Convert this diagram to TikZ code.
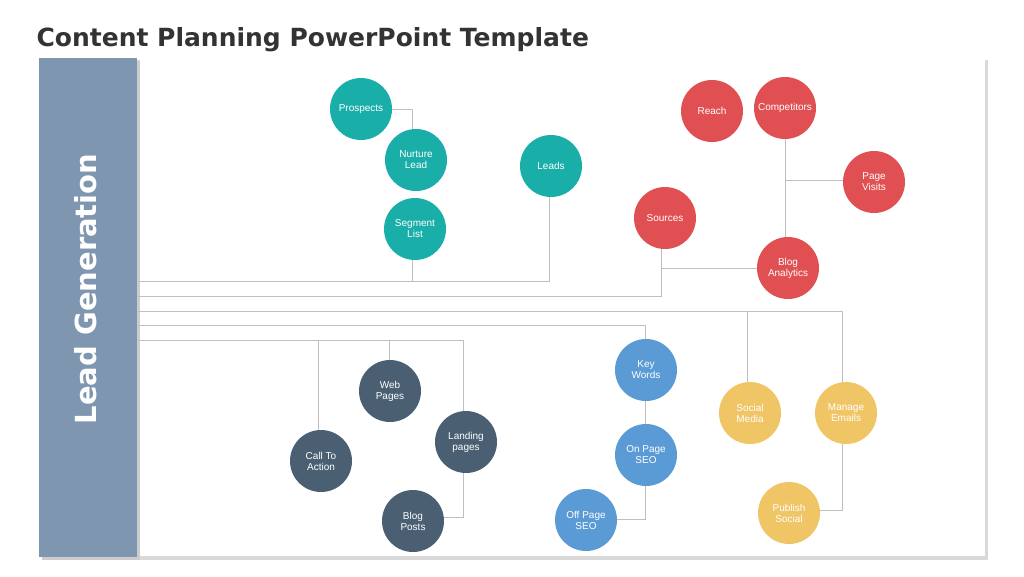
\documentclass[tikz,border=0pt]{standalone}
\usepackage{fontspec}
\setmainfont{Liberation Sans}
\newfontfamily\dvs{DejaVu Sans}
\definecolor{tl}{RGB}{26,174,168}
\definecolor{rr}{RGB}{224,80,82}
\definecolor{bb}{RGB}{91,155,213}
\definecolor{yy}{RGB}{240,197,102}
\definecolor{dd}{RGB}{74,96,114}
\definecolor{bar}{RGB}{127,150,177}
\begin{document}
\begin{tikzpicture}[x=1pt,y=-1pt,
 c/.style={circle,minimum size=62pt,inner sep=0pt,text=white,align=center,font=\fontsize{10}{11}\selectfont},
 ct/.style={c,fill=tl},cr/.style={c,fill=rr},cb/.style={c,fill=bb},cy/.style={c,fill=yy},cd/.style={c,fill=dd},
 ln/.style={draw=black!25,line width=1pt}]
\useasboundingbox (0,0) rectangle (1024,576);
\fill[white] (0,0) rectangle (1024,576);
\fill[black!15] (74,60) rectangle (988,560);
\fill[white] (140,57) rectangle (985,556);
\fill[black!20] (42,61) rectangle (140,560);
\fill[bar] (39,58) rectangle (137,557);
\node[anchor=west,font=\dvs\bfseries\fontsize{25}{28}\selectfont,text=black!80] (title) at (33,40) {Content Planning PowerPoint Template};
\node[rotate=90,font=\dvs\bfseries\fontsize{29}{32}\selectfont,text=white] (lg) at (86,289) {Lead Generation};
% lines
\coordinate (b1) at (138,281);\coordinate (b2) at (138,296);\coordinate (b3) at (138,311);\coordinate (b4) at (138,325);\coordinate (b5) at (138,340);
\draw[ln] (b1) -- (549,281) -- (549,166);
\draw[ln] (412,281) -- (412,229);
\draw[ln] (361,109) -- (412,109) -- (412,160);
\draw[ln] (b2) -- (661,296) -- (661,218);
\draw[ln] (661,268) -- (788,268);
\draw[ln] (785,108) -- (785,268);
\draw[ln] (785,180) -- (874,180);
\draw[ln] (b3) -- (842,311) -- (842,510) -- (789,510);
\draw[ln] (747,311) -- (747,413);
\draw[ln] (b4) -- (645,325) -- (645,519) -- (586,519);
\draw[ln] (b5) -- (463,340) -- (463,517) -- (413,517);
\draw[ln] (318,340) -- (318,461);
\draw[ln] (389,340) -- (389,391);
% circles
\node[ct] (pr) at (361,109) {Prospects};
\node[ct] (nl) at (416,160) {Nurture\\Lead};
\node[ct] (sl) at (415,229) {Segment\\List};
\node[ct] (le) at (551,166) {Leads};
\node[cr] (re) at (712,111) {Reach};
\node[cr] (co) at (785,108) {Competitors};
\node[cr] (pv) at (874,182) {Page\\Visits};
\node[cr] (so) at (665,218) {Sources};
\node[cr] (ba) at (788,268) {Blog\\Analytics};
\node[cb] (kw) at (646,370) {Key\\Words};
\node[cb] (op) at (646,455) {On Page\\SEO};
\node[cb] (of) at (586,520) {Off Page\\SEO};
\node[cy] (sm) at (750,413) {Social\\Media};
\node[cy] (me) at (846,413) {Manage\\Emails};
\node[cy] (ps) at (789,513) {Publish\\Social};
\node[cd] (wp) at (390,391) {Web\\Pages};
\node[cd] (lp) at (466,442) {Landing\\pages};
\node[cd] (ca) at (321,461) {Call To\\Action};
\node[cd] (bp) at (413,521) {Blog\\Posts};
\end{tikzpicture}
\end{document}
